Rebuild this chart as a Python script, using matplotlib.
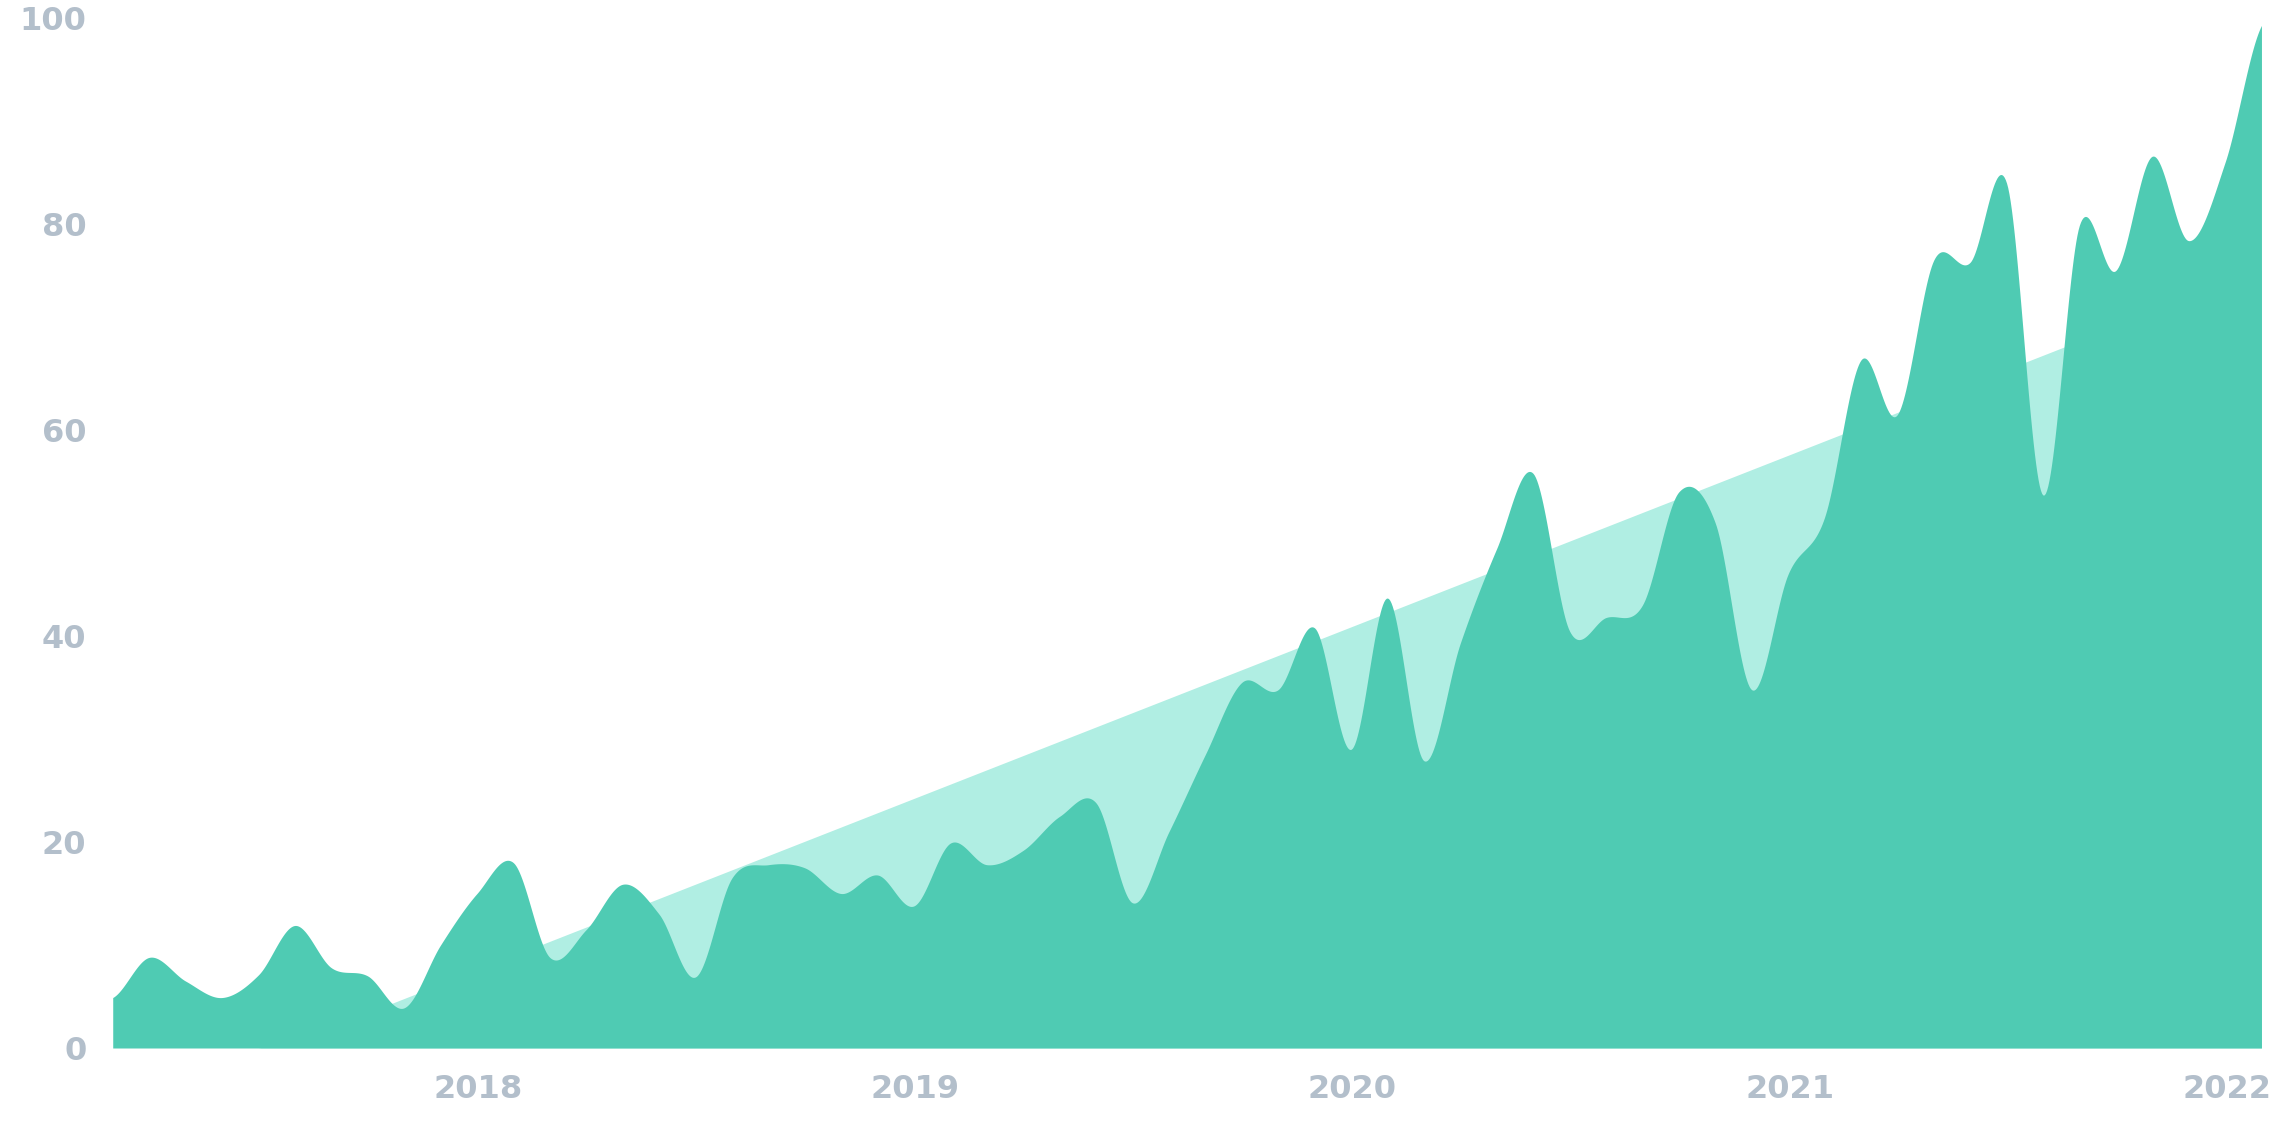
import numpy as np
import matplotlib
matplotlib.use("Agg")
import matplotlib.pyplot as plt

# monthly values, starting around Mar 2017 (month index 0)
values = [4.9, 8.8, 6.5, 4.9, 7.1, 11.9, 7.8, 7.0, 3.9, 10.0,
          15.0, 18.0, 8.8, 11.5, 15.9, 13.0, 6.9, 16.5, 17.8, 17.5,
          15.0, 16.8, 13.8, 19.9, 17.8, 19.2, 22.5, 23.8, 14.1, 21.0,
          28.5, 35.5, 34.8, 40.8, 29.0, 43.7, 27.9, 39.3, 48.5, 55.8,
          40.5, 41.8, 43.0, 54.0, 51.0, 34.8, 46.0, 51.5, 66.8, 61.5,
          76.5, 76.3, 84.0, 53.7, 79.9, 75.5, 86.6, 78.4, 86.0, 99.3]
trend_start, trend_end = -6.3, 75.6

# x tick positions in month index units
tick_pos = [10.04, 22.04, 34.02, 46.06, 58.06]
tick_labels = ["2018", "2019", "2020", "2021", "2022"]
y_ticks = [0, 20, 40, 60, 80, 100]

DARK = "#4FCBB3"
LIGHT = "#B0EEE3"
LABEL = "#B3BFCB"


def catmull_rom(x, y, steps=30):
    # smooth curve through every point
    x = np.asarray(x, float)
    y = np.asarray(y, float)
    px = np.concatenate([[2 * x[0] - x[1]], x, [2 * x[-1] - x[-2]]])
    py = np.concatenate([[y[0]], y, [y[-1]]])
    xs, ys = [], []
    t = np.linspace(0, 1, steps, endpoint=False)
    for i in range(1, len(px) - 2):
        p0, p1, p2, p3 = py[i - 1], py[i], py[i + 1], py[i + 2]
        ys.append(0.5 * (2 * p1 + (-p0 + p2) * t + (2 * p0 - 5 * p1 + 4 * p2 - p3) * t ** 2
                         + (-p0 + 3 * p1 - 3 * p2 + p3) * t ** 3))
        xs.append(px[i] + (px[i + 1] - px[i]) * t)
    xs.append([x[-1]])
    ys.append([y[-1]])
    return np.concatenate(xs), np.concatenate(ys)


x = np.arange(len(values))
sx, sy = catmull_rom(x, values)
trend = np.linspace(trend_start, trend_end, len(values))

fig = plt.figure(figsize=(22.82, 11.4), dpi=100)
ax = fig.add_axes([0.0494, 0.0807, 0.9416, 0.9033])

ax.fill_between(x, 0, np.clip(trend, 0, None), color=LIGHT, linewidth=0)
ax.fill_between(sx, 0, sy, color=DARK, linewidth=0)

ax.set_xlim(x[0], x[-1])
ax.set_ylim(0, 100)
ax.set_yticks(y_ticks)
ax.set_xticks(tick_pos)
ax.set_xticklabels(tick_labels)
ax.tick_params(length=0, labelsize=23, labelcolor=LABEL, pad=19)
for lab in ax.get_xticklabels() + ax.get_yticklabels():
    lab.set_fontweight("bold")
for s in ax.spines.values():
    s.set_visible(False)

fig.savefig("out.png", dpi=100, facecolor="white")
